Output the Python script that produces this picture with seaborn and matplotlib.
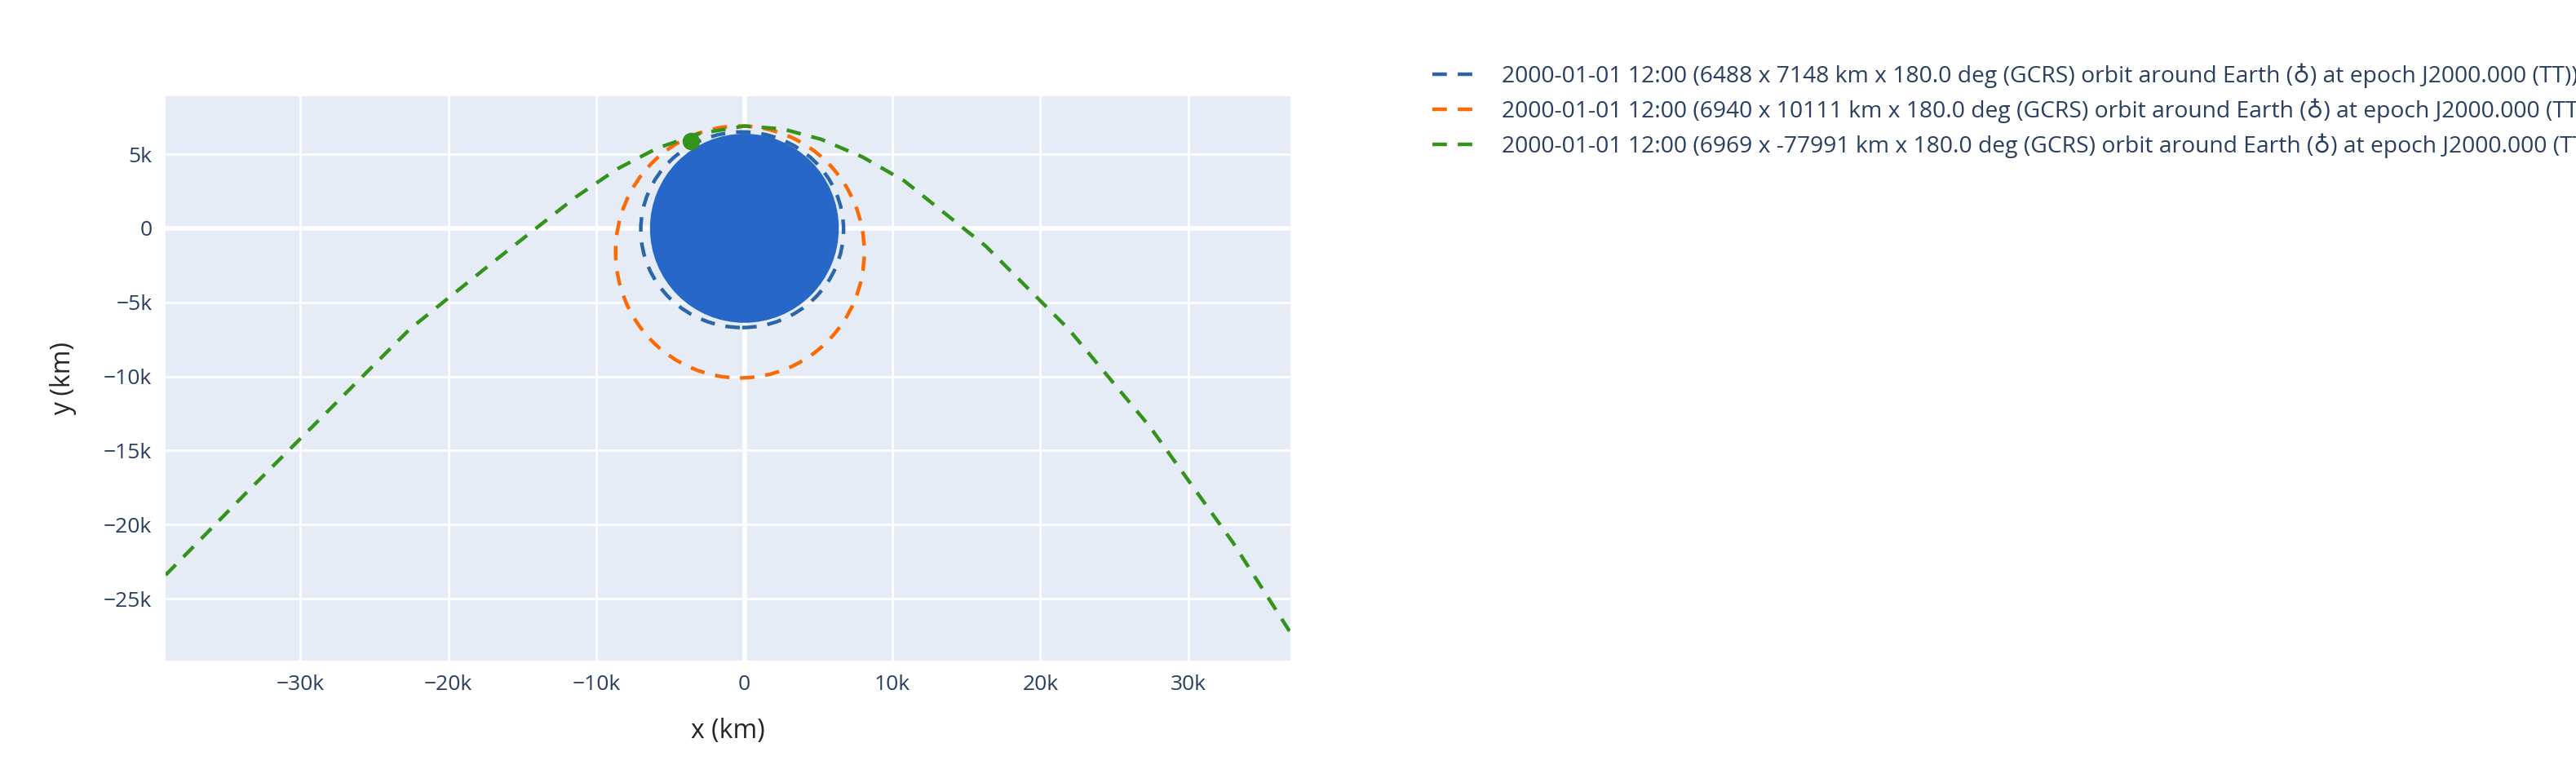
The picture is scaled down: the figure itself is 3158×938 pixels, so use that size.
import matplotlib
matplotlib.use("Agg")
import matplotlib.pyplot as plt
from matplotlib.patches import Ellipse, Circle
from matplotlib.ticker import FuncFormatter, MultipleLocator
import seaborn as sns
import pandas as pd

# hyperbolic (green) trajectory, km
green_x = [-39100, -33700, -28100, -22600, -17000, -11400, -8600, -5900, -3000, 0, 2600, 5200, 8000, 10800, 16300, 21900, 27400, 33000, 36900]
green_y = [-23400, -17900, -12300, -6800, -2300, 2100, 4000, 5400, 6400, 6900, 6700, 6000, 4800, 3200, -1200, -6800, -13400, -21200, -27300]

# closed orbits as ellipses: centre x, centre y, width, height (km)
blue_orbit = (-150, -100, 13700, 13200)
orange_orbit = (-300, -1600, 16800, 17000)

earth_radius = 6378
sat_pos = (-3600, 5900)

labels = [
    "2000-01-01 12:00 (6488 x 7148 km x 180.0 deg (GCRS) orbit around Earth (\u2641) at epoch J2000.000 (TT))",
    "2000-01-01 12:00 (6940 x 10111 km x 180.0 deg (GCRS) orbit around Earth (\u2641) at epoch J2000.000 (TT))",
    "2000-01-01 12:00 (6969 x -77991 km x 180.0 deg (GCRS) orbit around Earth (\u2641) at epoch J2000.000 (TT))",
]
colors = ["#2a66a8", "#fc6a06", "#33931a"]
DASH = (0, (4, 3))

sns.set_style("darkgrid", {"axes.facecolor": "#E5ECF6", "grid.color": "white"})
plt.rcParams["font.family"] = ["Open Sans", "DejaVu Sans"]
plt.rcParams["text.color"] = "#2a3f5f"
plt.rcParams["xtick.color"] = "#2a3f5f"
plt.rcParams["ytick.color"] = "#2a3f5f"

fig = plt.figure(figsize=(15.79, 4.69), dpi=200)
ax = fig.add_axes([0.0643, 0.136, 0.4367, 0.738])

ax.add_patch(Circle((0, 0), earth_radius, color="#2767c7", zorder=2, lw=0))
handles = []
for (cx, cy, w, h), c in zip([blue_orbit, orange_orbit], colors[:2]):
    ax.add_patch(Ellipse((cx, cy), w, h, fill=False, edgecolor=c, lw=1.6, ls=DASH, zorder=3))

df = pd.DataFrame({"x": green_x, "y": green_y})
sns.lineplot(data=df, x="x", y="y", sort=False, estimator=None, color=colors[2], lw=1.6,
             ax=ax, legend=False, zorder=3)
ax.lines[-1].set_linestyle(DASH)
ax.scatter([sat_pos[0]], [sat_pos[1]], s=45, color=colors[2], zorder=4)

ax.set_xlim(-39100, 36900)
ax.set_ylim(-29200, 8900)
ax.xaxis.set_major_locator(MultipleLocator(10000))
ax.yaxis.set_major_locator(MultipleLocator(5000))
fmt = FuncFormatter(lambda v, p: "0" if v == 0 else f"{v/1000:.0f}k".replace("-", "\u2212"))
ax.xaxis.set_major_formatter(fmt)
ax.yaxis.set_major_formatter(fmt)
ax.grid(True, color="white", lw=1.0)
ax.axhline(0, color="white", lw=2, zorder=1)
ax.axvline(0, color="white", lw=2, zorder=1)
ax.tick_params(labelsize=9.5, length=0, pad=6)
for s in ax.spines.values():
    s.set_visible(False)
ax.set_xlabel("x (km)", fontsize=11.5, labelpad=10)
ax.set_ylabel("y (km)", fontsize=11.5, labelpad=12)

handles = [plt.Line2D([], [], color=c, lw=1.6, ls=DASH) for c in colors]
fig.legend(handles, labels, loc="upper left", bbox_to_anchor=(0.548, 0.945), frameon=False,
           fontsize=10.2, handlelength=2.2, labelspacing=0.45)

fig.savefig("out.png", dpi=200)
